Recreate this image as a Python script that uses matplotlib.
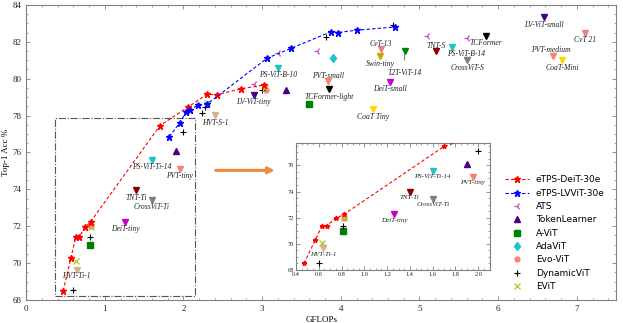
import matplotlib
matplotlib.use("Agg")
import matplotlib.pyplot as plt
from matplotlib.patches import Rectangle
from matplotlib.ticker import AutoMinorLocator, MultipleLocator

# ---------------- data ----------------
etps_deit_x = [0.47, 0.57, 0.63, 0.67, 0.75, 0.82, 1.70, 2.06, 2.30, 2.43, 2.73, 3.02]
etps_deit_y = [68.5, 70.3, 71.4, 71.4, 71.95, 72.25, 77.45, 78.47, 79.15, 79.13, 79.45, 79.65]

etps_lvvit_x = [1.82, 1.95, 2.03, 2.08, 2.19, 2.30, 3.06, 3.37, 3.88, 3.96, 4.21, 4.69]
etps_lvvit_y = [76.85, 77.6, 78.17, 78.32, 78.57, 78.62, 81.1, 81.65, 82.55, 82.5, 82.63, 82.8]

ats_x = [2.9, 3.2, 3.7, 5.1, 5.6]
ats_y = [79.7, 81.4, 81.5, 82.3, 82.2]

tokenlearner_x = [1.9, 3.3]
tokenlearner_y = [76.1, 79.4]

avit_x = [0.81, 3.6]
avit_y = [71.0, 78.6]

adavit_x = [3.9]
adavit_y = [81.1]

evovit_x = [0.82, 3.05]
evovit_y = [72.0, 79.4]

dynamicvit_x = [0.6, 0.81, 2.0, 2.24, 2.27, 3.0, 3.81, 4.66]
dynamicvit_y = [68.55, 71.4, 77.1, 78.15, 78.48, 79.4, 82.25, 82.9]

evit_x = [0.63, 0.82, 2.3, 3.04]
evit_y = [70.1, 71.97, 78.68, 79.5]

model_names = ["HVT-Ti-1", "DeiT-tiny", "TNT-Ti", "CrossViT-Ti", "PS-ViT-Ti-14", "PVT-tiny",
               "HVT-S-1", "LV-ViT-tiny", "PS-ViT-B-10", "PVT-small", "TCFormer-light",
               "CoaT Tiny", "CvT-13", "Swin-tiny", "DeiT-small", "T2T-ViT-14", "TNT-S",
               "PS-ViT-B-14", "CrossViT-S", "TCFormer", "LV-ViT-small", "CvT 21",
               "PVT-medium", "CoaT-Mini"]
model_x = [0.64, 1.26, 1.40, 1.60, 1.60, 1.95,
           2.40, 2.89, 3.20, 3.84, 3.85,
           4.41, 4.51, 4.50, 4.62, 4.81, 5.21,
           5.41, 5.61, 5.85, 6.58, 7.11,
           6.70, 6.81]
model_y = [69.65, 72.25, 73.95, 73.45, 75.6, 75.12,
           78.02, 79.13, 80.6, 79.85, 79.43,
           78.35, 81.6, 81.22, 79.83, 81.5, 81.5,
           81.74, 81.0, 82.33, 83.33, 82.5,
           81.25, 81.0]

# ---------------- styles ----------------
model_colors = ["#D2B48C", "#CC00CC", "#8B0000", "#7F7F7F", "#1CC6C6", "#FA8072",
                "#D2B48C", "#4B0082", "#1CC6C6", "#FA8072", "#000000",
                "#FFD700", "#F08080", "#BDB000", "#CC00CC", "#008000", "#8B0000",
                "#1CC6C6", "#7F7F7F", "#000000", "#4B0082", "#F08080",
                "#FA8072", "#FFD700"]
# label offsets in points (dx, dy)
label_offsets = {"PVT-small": (0, 3.8), "CvT-13": (0, 3.8), "TNT-S": (0, 3.8),
                 "PVT-medium": (-2, 3.8), "PS-ViT-B-14": (10, -5.5),
                 "T2T-ViT-14": (0, -15.5), "HVT-Ti-1": (0, -4.8)}
inset_models = ["HVT-Ti-1", "DeiT-tiny", "TNT-Ti", "CrossViT-Ti", "PS-ViT-Ti-14", "PVT-tiny"]

SERIF = ["Liberation Serif", "DejaVu Serif"]
SANS = ["DejaVu Sans"]

fig = plt.figure(figsize=(6.23, 3.23), dpi=100)
ax = fig.add_axes([0.042, 0.071, 0.947, 0.914])

spine_col = "#808080"


def style_axes(a, fs):
    for s in a.spines.values():
        s.set_color(spine_col)
        s.set_linewidth(0.8)
    a.tick_params(which="both", direction="in", top=True, right=True, colors=spine_col,
                  labelcolor="#222222", labelsize=fs)
    a.tick_params(which="major", length=3, width=0.6)
    a.tick_params(which="minor", length=1.5, width=0.5)
    a.xaxis.set_minor_locator(AutoMinorLocator())
    a.yaxis.set_minor_locator(AutoMinorLocator())
    for lab in a.get_xticklabels() + a.get_yticklabels():
        lab.set_family(SERIF)


def draw_common(a, inset=False):
    star = 3.5 if inset else 5
    a.plot(etps_deit_x, etps_deit_y, linestyle="--", color="red", lw=0.8, marker="*",
           markersize=star, dashes=(3, 2), label="eTPS-DeiT-30e", zorder=5)
    if not inset:
        a.plot(etps_lvvit_x, etps_lvvit_y, linestyle="--", color="blue", lw=0.8, marker="*",
               markersize=star, dashes=(3, 2), label="eTPS-LVViT-30e", zorder=5)
        a.plot(ats_x, ats_y, linestyle="none", marker="3", color="#CC44CC",
               markersize=5, mew=0.9, label="ATS", zorder=4)
    a.plot(tokenlearner_x, tokenlearner_y, linestyle="none", marker="^", color="#4B0082",
           markersize=4.5, label="TokenLearner", zorder=4)
    a.plot(avit_x, avit_y, linestyle="none", marker="s", color="#008000",
           markersize=4.5 if inset else 4, label="A-ViT", zorder=4)
    if not inset:
        a.plot(adavit_x, adavit_y, linestyle="none", marker="d", color="#1CC6C6",
               markersize=4.5, label="AdaViT", zorder=4)
    a.plot(evovit_x, evovit_y, linestyle="none", marker="o", color="#FA8072",
           markersize=3.5, label="Evo-ViT", zorder=4)
    a.plot(dynamicvit_x, dynamicvit_y, linestyle="none", marker="+", color="black",
           markersize=5, mew=0.8, label="DynamicViT", zorder=4)
    a.plot(evit_x, evit_y, linestyle="none", marker="x", color="#BFBF2A",
           markersize=4, mew=0.9, label="EViT", zorder=4)


draw_common(ax)

# annotated models
for name, x, y, c in zip(model_names, model_x, model_y, model_colors):
    ax.plot([x], [y], linestyle="none", marker="v", color=c, markersize=5, zorder=3)
    dx, dy = label_offsets.get(name, (0, -5.5))
    if name == "T2T-ViT-14":
        ax.annotate(name, xy=(x, y), xytext=(dx, dy), textcoords="offset points",
                    ha="center", va="center", fontsize=5.5, style="italic", family=SERIF,
                    color="#222222",
                    arrowprops=dict(arrowstyle="-", color="gray", lw=0.8, shrinkA=4, shrinkB=2))
    else:
        ax.annotate(name, xy=(x, y), xytext=(dx, dy), textcoords="offset points",
                    ha="center", va="center", fontsize=5.5, style="italic", family=SERIF,
                    color="#222222")

ax.set_xlim(0, 7.5)
ax.set_ylim(68, 84)
ax.xaxis.set_major_locator(MultipleLocator(1))
ax.yaxis.set_major_locator(MultipleLocator(2))
style_axes(ax, 6.5)
ax.set_xlabel("GFLOPs", family=SERIF, fontsize=6.5, labelpad=2)
ax.set_ylabel("Top-1 Acc %", family=SERIF, fontsize=6.5, labelpad=2)

# zoom rectangle
ax.add_patch(Rectangle((0.37, 68.2), 1.78, 9.65, fill=False, ls="-.", ec="#555555", lw=0.8,
                       zorder=2))

# arrow
ax.annotate("", xy=(3.16, 75.03), xytext=(2.41, 75.03),
            arrowprops=dict(arrowstyle="-|>", color="#F08A3C", lw=2.2, mutation_scale=9,
                            shrinkA=0, shrinkB=0))

leg = ax.legend(loc="upper left", bbox_to_anchor=(0.805, 0.468), bbox_transform=fig.transFigure,
                frameon=False, handlelength=2.6, borderaxespad=0,
                labelspacing=0.48, handletextpad=0.8, prop={"family": SANS, "size": 6.5})

# inset
axin = fig.add_axes([0.475, 0.164, 0.311, 0.393])
draw_common(axin, inset=True)
for name, x, y, c in zip(model_names, model_x, model_y, model_colors):
    if name in inset_models:
        axin.plot([x], [y], linestyle="none", marker="v", color=c, markersize=5, zorder=3)
        axin.annotate(name, xy=(x, y), xytext=(0, -4.2), textcoords="offset points",
                      ha="center", va="center", fontsize=5, style="italic", family=SERIF,
                      color="#222222")
axin.set_xlim(0.4, 2.1)
axin.set_ylim(68, 77.7)
axin.set_xticks([0.4, 0.6, 0.8, 1.0, 1.2, 1.4, 1.6, 1.8, 2.0])
axin.set_xticklabels(["0.4", "0.6", "0.8", "1.0", "1.2", "1.4", "1.6", "1.8", "2.0"])
axin.yaxis.set_major_locator(MultipleLocator(2))
style_axes(axin, 4.5)
axin.tick_params(which="major", pad=1.5)

fig.savefig("out.png", dpi=100)
